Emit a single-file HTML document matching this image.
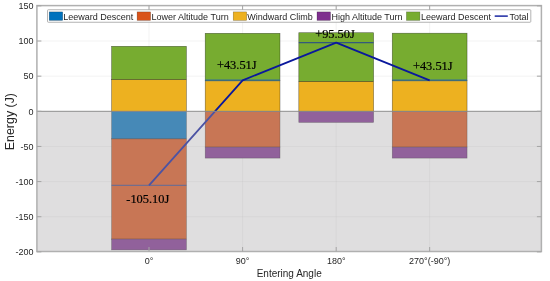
<!DOCTYPE html><html><head><meta charset="utf-8"><title>Energy</title><style>html,body{margin:0;padding:0;background:#fff}svg{display:block}text{font-family:"Liberation Sans",Arial,sans-serif;fill:#262626}.t{font-family:"Liberation Serif","Times New Roman",serif;fill:#000;stroke:#000;stroke-width:0.2px}</style></head><body>
<svg width="550" height="281" viewBox="0 0 550 281">
<rect width="550" height="281" fill="#fff"/>
<g stroke="#262626" stroke-opacity="0.055" stroke-width="1"><line x1="36.9" x2="541.4" y1="41.01" y2="41.01"/><line x1="36.9" x2="541.4" y1="76.16" y2="76.16"/><line x1="36.9" x2="541.4" y1="146.44" y2="146.44"/><line x1="36.9" x2="541.4" y1="181.59" y2="181.59"/><line x1="36.9" x2="541.4" y1="216.74" y2="216.74"/><line x1="149.0" x2="149.0" y1="5.6" y2="251.5"/><line x1="242.6" x2="242.6" y1="5.6" y2="251.5"/><line x1="336.2" x2="336.2" y1="5.6" y2="251.5"/><line x1="429.65" x2="429.65" y1="5.6" y2="251.5"/></g>
<rect x="111.60" y="79.40" width="74.80" height="31.90" fill="#EDB120" stroke="#000" stroke-opacity="0.5" stroke-width="0.6"/>
<rect x="111.60" y="46.30" width="74.80" height="33.10" fill="#77AC30" stroke="#000" stroke-opacity="0.5" stroke-width="0.6"/>
<rect x="111.60" y="111.30" width="74.80" height="27.60" fill="#0072BD" stroke="#000" stroke-opacity="0.5" stroke-width="0.6"/>
<rect x="111.60" y="138.90" width="74.80" height="100.20" fill="#D95319" stroke="#000" stroke-opacity="0.5" stroke-width="0.6"/>
<rect x="111.60" y="239.10" width="74.80" height="10.80" fill="#7E2F8E" stroke="#000" stroke-opacity="0.5" stroke-width="0.6"/>
<rect x="205.20" y="80.70" width="74.80" height="30.60" fill="#EDB120" stroke="#000" stroke-opacity="0.5" stroke-width="0.6"/>
<rect x="205.20" y="33.30" width="74.80" height="47.40" fill="#77AC30" stroke="#000" stroke-opacity="0.5" stroke-width="0.6"/>
<rect x="205.20" y="111.30" width="74.80" height="35.80" fill="#D95319" stroke="#000" stroke-opacity="0.5" stroke-width="0.6"/>
<rect x="205.20" y="147.10" width="74.80" height="11.00" fill="#7E2F8E" stroke="#000" stroke-opacity="0.5" stroke-width="0.6"/>
<rect x="298.80" y="81.30" width="74.80" height="30.00" fill="#EDB120" stroke="#000" stroke-opacity="0.5" stroke-width="0.6"/>
<rect x="298.80" y="32.70" width="74.80" height="48.60" fill="#77AC30" stroke="#000" stroke-opacity="0.5" stroke-width="0.6"/>
<rect x="298.80" y="111.30" width="74.80" height="11.10" fill="#7E2F8E" stroke="#000" stroke-opacity="0.5" stroke-width="0.6"/>
<rect x="392.25" y="80.70" width="74.80" height="30.60" fill="#EDB120" stroke="#000" stroke-opacity="0.5" stroke-width="0.6"/>
<rect x="392.25" y="33.20" width="74.80" height="47.50" fill="#77AC30" stroke="#000" stroke-opacity="0.5" stroke-width="0.6"/>
<rect x="392.25" y="111.30" width="74.80" height="35.80" fill="#D95319" stroke="#000" stroke-opacity="0.5" stroke-width="0.6"/>
<rect x="392.25" y="147.10" width="74.80" height="11.00" fill="#7E2F8E" stroke="#000" stroke-opacity="0.5" stroke-width="0.6"/>
<line x1="111.60" x2="186.40" y1="185.3" y2="185.3" stroke="#1c3f96" stroke-width="1.3" stroke-opacity="0.75"/>
<line x1="205.20" x2="280.00" y1="80.2" y2="80.2" stroke="#2c66a8" stroke-width="2" stroke-opacity="0.6"/>
<line x1="298.80" x2="373.60" y1="42.6" y2="42.6" stroke="#1c3f96" stroke-width="1.3" stroke-opacity="0.75"/>
<line x1="392.25" x2="467.05" y1="80.2" y2="80.2" stroke="#2c66a8" stroke-width="2" stroke-opacity="0.6"/>
<polyline points="149.0,185.3 242.6,80.3 336.2,42.6 429.65,80.3" fill="none" stroke="#0a189c" stroke-width="1.8" stroke-linejoin="round"/>
<rect x="36.9" y="111.3" width="504.5" height="140.2" fill="#b0adb0" fill-opacity="0.4"/>
<line x1="36.9" x2="541.4" y1="111.3" y2="111.3" stroke="#8c8c8c" stroke-width="1"/>
<rect x="36.9" y="5.6" width="504.5" height="245.9" fill="none" stroke="#b0b0b0" stroke-width="1.5"/>
<g stroke="#a4a4a4" stroke-width="1"><line x1="149.0" x2="149.0" y1="251.5" y2="247.0"/><line x1="149.0" x2="149.0" y1="5.6" y2="10.1"/><line x1="242.6" x2="242.6" y1="251.5" y2="247.0"/><line x1="242.6" x2="242.6" y1="5.6" y2="10.1"/><line x1="336.2" x2="336.2" y1="251.5" y2="247.0"/><line x1="336.2" x2="336.2" y1="5.6" y2="10.1"/><line x1="429.65" x2="429.65" y1="251.5" y2="247.0"/><line x1="429.65" x2="429.65" y1="5.6" y2="10.1"/><line x1="36.9" x2="41.4" y1="5.86" y2="5.86"/><line x1="541.4" x2="536.9" y1="5.86" y2="5.86"/><line x1="36.9" x2="41.4" y1="41.01" y2="41.01"/><line x1="541.4" x2="536.9" y1="41.01" y2="41.01"/><line x1="36.9" x2="41.4" y1="76.16" y2="76.16"/><line x1="541.4" x2="536.9" y1="76.16" y2="76.16"/><line x1="36.9" x2="41.4" y1="111.30" y2="111.30"/><line x1="541.4" x2="536.9" y1="111.30" y2="111.30"/><line x1="36.9" x2="41.4" y1="146.44" y2="146.44"/><line x1="541.4" x2="536.9" y1="146.44" y2="146.44"/><line x1="36.9" x2="41.4" y1="181.59" y2="181.59"/><line x1="541.4" x2="536.9" y1="181.59" y2="181.59"/><line x1="36.9" x2="41.4" y1="216.74" y2="216.74"/><line x1="541.4" x2="536.9" y1="216.74" y2="216.74"/><line x1="36.9" x2="41.4" y1="251.88" y2="251.88"/><line x1="541.4" x2="536.9" y1="251.88" y2="251.88"/></g>
<text x="33.5" y="9.16" font-size="9" text-anchor="end">150</text>
<text x="33.5" y="44.31" font-size="9" text-anchor="end">100</text>
<text x="33.5" y="79.45" font-size="9" text-anchor="end">50</text>
<text x="33.5" y="114.60" font-size="9" text-anchor="end">0</text>
<text x="33.5" y="149.75" font-size="9" text-anchor="end">-50</text>
<text x="33.5" y="184.89" font-size="9" text-anchor="end">-100</text>
<text x="33.5" y="220.04" font-size="9" text-anchor="end">-150</text>
<text x="33.5" y="255.18" font-size="9" text-anchor="end">-200</text>
<text x="149.0" y="264.3" font-size="9" text-anchor="middle">0°</text>
<text x="242.6" y="264.3" font-size="9" text-anchor="middle">90°</text>
<text x="336.2" y="264.3" font-size="9" text-anchor="middle">180°</text>
<text x="429.65" y="264.3" font-size="9" text-anchor="middle">270°(-90°)</text>
<text x="289.2" y="276.7" font-size="10" text-anchor="middle">Entering Angle</text>
<text transform="translate(14.0,121.6) rotate(-90)" font-size="12.4" text-anchor="middle">Energy (J)</text>
<text class="t" x="147.8" y="203.1" font-size="12.4" text-anchor="middle">-105.10J</text>
<text class="t" x="236.8" y="68.6" font-size="12.4" text-anchor="middle">+43.51J</text>
<text class="t" x="335" y="38.3" font-size="12.4" text-anchor="middle">+95.50J</text>
<text class="t" x="432.8" y="70.4" font-size="12.4" text-anchor="middle">+43.51J</text>
<rect x="47.5" y="9.75" width="483.3" height="12.5" rx="0.8" fill="#fff" stroke="#a0a0a0" stroke-width="0.8"/>
<rect x="49.2" y="11.9" width="13.5" height="8.5" fill="#0072BD" stroke="#000" stroke-opacity="0.4" stroke-width="0.5"/>
<text x="63.3" y="19.8" font-size="9">Leeward Descent</text>
<rect x="137.1" y="11.9" width="13.5" height="8.5" fill="#D95319" stroke="#000" stroke-opacity="0.4" stroke-width="0.5"/>
<text x="151.6" y="19.8" font-size="9">Lower Altitude Turn</text>
<rect x="233.2" y="11.9" width="13.5" height="8.5" fill="#EDB120" stroke="#000" stroke-opacity="0.4" stroke-width="0.5"/>
<text x="247.2" y="19.8" font-size="9">Windward Climb</text>
<rect x="317" y="11.9" width="13.5" height="8.5" fill="#7E2F8E" stroke="#000" stroke-opacity="0.4" stroke-width="0.5"/>
<text x="331.4" y="19.8" font-size="9">High Altitude Turn</text>
<rect x="406.4" y="11.9" width="13.5" height="8.5" fill="#77AC30" stroke="#000" stroke-opacity="0.4" stroke-width="0.5"/>
<text x="421" y="19.8" font-size="9">Leeward Descent</text>
<line x1="494.7" x2="507.8" y1="16.1" y2="16.1" stroke="#0a189c" stroke-width="1.4"/>
<text x="509.6" y="19.8" font-size="9">Total</text>
</svg></body></html>
